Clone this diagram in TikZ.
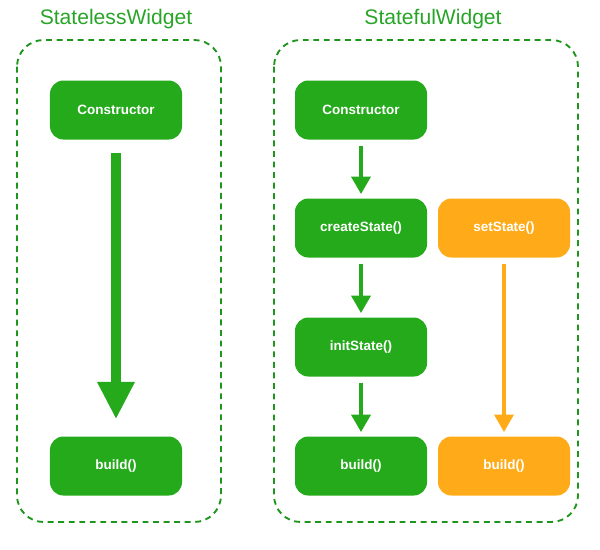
\documentclass[tikz,border=0pt]{standalone}
\usepackage{fontspec}
\setmainfont{Liberation Sans}
\usetikzlibrary{arrows.meta}

\definecolor{boxgreen}{RGB}{37,170,28}
\definecolor{boxorange}{RGB}{255,170,25}
\definecolor{titlegreen}{RGB}{40,165,40}
\definecolor{framegreen}{RGB}{30,150,30}

\tikzset{
    lifebox/.style={rounded corners=0.4cm, minimum width=3.96cm, minimum height=1.77cm,
        text=white, font=\fontsize{11.5}{13}\selectfont\bfseries, inner sep=0pt},
    greenbox/.style={lifebox, fill=boxgreen},
    orangebox/.style={lifebox, fill=boxorange},
    widgetframe/.style={draw=framegreen, line width=1.6pt, dash pattern=on 5pt off 4pt, rounded corners=0.8cm},
    widgettitle/.style={text=titlegreen, font=\fontsize{18}{20}\selectfont},
    flow/.style={-{Triangle[width=16pt, length=15pt]}, line width=4.2pt, shorten <=5pt, shorten >=3.5pt},
}

\begin{document}
\begin{tikzpicture}[x=0.03cm, y=-0.03cm]
        \useasboundingbox (0,0) rectangle (600,549);
        % frames
        \draw[widgetframe] (17,40) rectangle (221,522);
        \draw[widgetframe] (274,40) rectangle (578,522);
        \node[widgettitle] (lesstitle) at (116,19) {StatelessWidget};
        \node[widgettitle] (fultitle) at (433,19) {StatefulWidget};
        % stateless
        \node[greenbox] (lessctor) at (116,110) {Constructor};
        \node[greenbox] (lessbuild) at (116,466) {build()};
        \draw[boxgreen, -{Triangle[width=30pt, length=32pt]}, line width=8.5pt,
            shorten <=11pt, shorten >=14.5pt] (lessctor) -- (lessbuild);
        % stateful
        \node[greenbox] (fulctor) at (361,110) {Constructor};
        \node[greenbox] (create) at (361,228) {createState()};
        \node[greenbox] (init) at (361,347) {initState()};
        \node[greenbox] (fulbuild) at (361,466) {build()};
        \node[orangebox] (setstate) at (504,228) {setState()};
        \node[orangebox] (rebuild) at (504,466) {build()};
        \draw[flow, boxgreen] (fulctor) -- (create);
        \draw[flow, boxgreen] (create) -- (init);
        \draw[flow, boxgreen] (init) -- (fulbuild);
        \draw[flow, boxorange, line width=3.6pt] (setstate) -- (rebuild);
    \end{tikzpicture}
\end{document}
